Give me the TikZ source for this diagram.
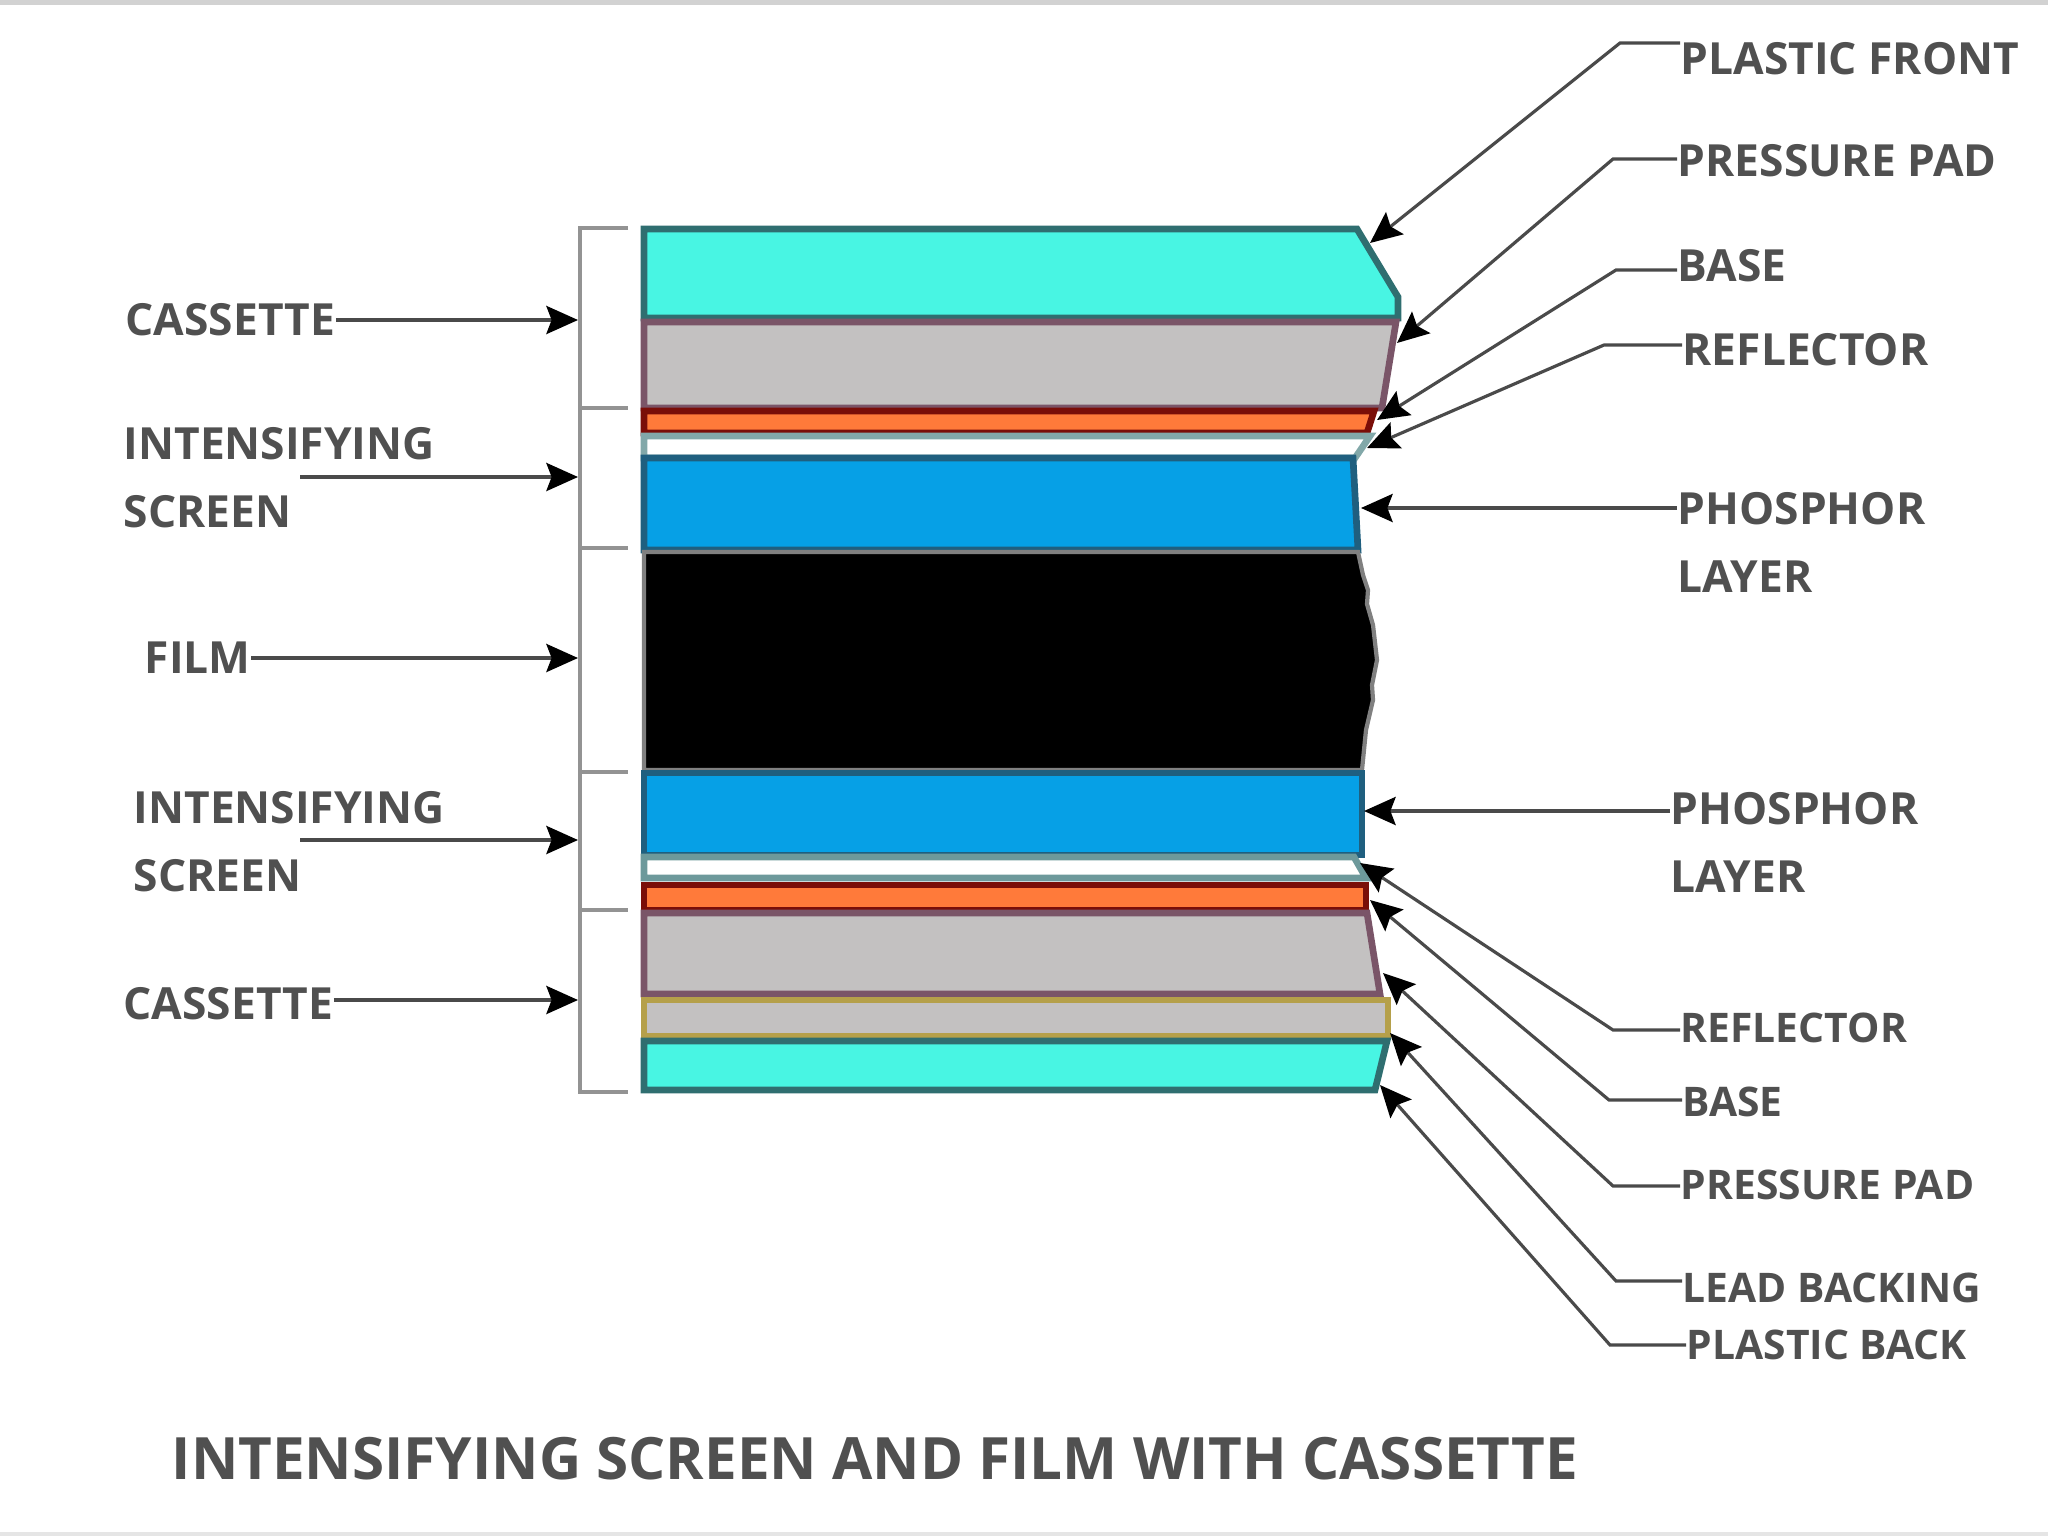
\documentclass[tikz,border=0pt]{standalone}
\usepackage{fontspec}
\setmainfont{Open Sans}
\usepackage{xcolor}
\usetikzlibrary{arrows.meta, positioning}
\definecolor{inkgray}{HTML}{505050}
\definecolor{edgegray}{HTML}{4A4A4A}
\definecolor{plasticfill}{HTML}{48F5E3}
\definecolor{plasticedge}{HTML}{2F6E70}
\definecolor{padfill}{HTML}{C3C1C1}
\definecolor{padedge}{HTML}{7A5568}
\definecolor{basefill}{HTML}{FF7A3A}
\definecolor{baseedge}{HTML}{7A0E08}
\definecolor{phosphorfill}{HTML}{06A0E6}
\definecolor{phosphoredge}{HTML}{1F5F7F}
\definecolor{leadedge}{HTML}{B5A04A}
\tikzset{
  layer/.style={line width=1.9pt, line join=miter},
  biglabel/.style={anchor=west, inner sep=0pt, align=left, text=inkgray,
                   font=\fontsize{12.6}{19.3}\selectfont\bfseries},
  smalllabel/.style={anchor=west, inner sep=0pt, text=inkgray,
                     font=\fontsize{11.6}{14}\selectfont\bfseries},
  titlelabel/.style={anchor=west, inner sep=0pt, text=inkgray,
                     font=\fontsize{16.6}{20}\selectfont\bfseries},
  arrow/.style={-{Stealth[length=9pt,width=8pt,inset=1.5pt,color=black]},
                draw=edgegray, line width=0.9pt},
  bracket/.style={draw=gray!85, line width=1.2pt},
}
\begin{document}
\begin{tikzpicture}[x=0.01cm, y=-0.01cm]
  \useasboundingbox (0,0) rectangle (2048,1536);
  \fill[gray!35] (0,0) rectangle (2048,5);
  \fill[gray!20] (0,1532) rectangle (2048,1536);

  \path[layer, draw=plasticedge, fill=plasticfill]
    (644,229) -- (1357,229) -- (1398,297) -- (1398,318) -- (644,318) -- cycle;
  \path[layer, draw=padedge, fill=padfill]
    (644,322) -- (1396,322) -- (1382,408) -- (644,408) -- cycle;
  \path[layer, draw=baseedge, fill=basefill]
    (644,411) -- (1374,411) -- (1367,433) -- (644,433) -- cycle;
  \path[layer, draw=plasticedge!60, fill=white]
    (644,436) -- (1370,436) -- (1355,458) -- (644,458) -- cycle;
  \path[layer, draw=phosphoredge, fill=phosphorfill]
    (644,458) -- (1353,458) -- (1358,550) -- (644,550) -- cycle;
  \path[draw=edgegray!70, line width=1.2pt, fill=black]
    (644,552) -- (1358,552) -- (1363,575) -- (1368,590) -- (1367,604) -- (1373,625)
    -- (1377,660) -- (1372,685) -- (1373,700) -- (1366,730) -- (1362,770) -- (644,770) -- cycle;
  \path[layer, draw=phosphoredge, fill=phosphorfill]
    (644,773) -- (1362,773) -- (1362,855) -- (644,855) -- cycle;
  \path[layer, draw=plasticedge!70, fill=white]
    (644,857) -- (1354,857) -- (1366,878) -- (644,878) -- cycle;
  \path[layer, draw=baseedge, fill=basefill]
    (644,885) -- (1366,885) -- (1366,910) -- (644,910) -- cycle;
  \path[layer, draw=padedge, fill=padfill]
    (644,913) -- (1367,913) -- (1380,994) -- (644,994) -- cycle;
  \path[layer, draw=leadedge, fill=padfill]
    (644,1000) -- (1388,1000) -- (1388,1036) -- (644,1036) -- cycle;
  \path[layer, draw=plasticedge, fill=plasticfill]
    (644,1041) -- (1387,1041) -- (1375,1090) -- (644,1090) -- cycle;

  \draw[bracket] (628,228) -- (580,228) -- (580,1092) -- (628,1092);
  \coordinate (tickfoot) at (580,408);
  \draw[bracket] (tickfoot) -- (628,408);
  \coordinate (tickfilm) at (580,548);
  \draw[bracket] (tickfilm) -- (628,548);
  \coordinate (tickscreen) at (580,772);
  \draw[bracket] (tickscreen) -- (628,772);
  \coordinate (tickpad) at (580,910);
  \draw[bracket] (tickpad) -- (628,910);

  \node[biglabel] (cassetteA) at (125,320) {CASSETTE};
  \node[biglabel] (screenA) at (123,478) {INTENSIFYING\\SCREEN};
  \node[biglabel] (film) at (144,658) {FILM};
  \node[biglabel] (screenB) at (133,842) {INTENSIFYING\\SCREEN};
  \node[biglabel] (cassetteB) at (123,1004) {CASSETTE};

  \coordinate (screenAfrom) at (300,477);
  \coordinate (screenBfrom) at (300,840);
  \coordinate (cassetteAto) at (578,320);
  \coordinate (screenAto) at (578,477);
  \coordinate (filmto) at (578,658);
  \coordinate (screenBto) at (578,840);
  \coordinate (cassetteBto) at (578,1000);
  \draw[arrow] (cassetteA.east) -- (cassetteAto);
  \draw[arrow] (screenAfrom) -- (screenAto);
  \draw[arrow] (film.east) -- (filmto);
  \draw[arrow] (screenBfrom) -- (screenBto);
  \draw[arrow] (cassetteB.east |- cassetteBto) -- (cassetteBto);

  \node[biglabel] (frontT) at (1680,59) {PLASTIC FRONT};
  \node[biglabel] (padT) at (1677,161) {PRESSURE PAD};
  \node[biglabel] (baseT) at (1677,266) {BASE};
  \node[biglabel] (reflT) at (1682,350) {REFLECTOR};
  \node[biglabel] (phosT) at (1677,542) {PHOSPHOR\\LAYER};
  \node[biglabel] (phosB) at (1670,842) {PHOSPHOR\\LAYER};
  \node[smalllabel] (reflB) at (1680,1028) {REFLECTOR};
  \node[smalllabel] (baseB) at (1682,1102) {BASE};
  \node[smalllabel] (padB) at (1680,1185) {PRESSURE PAD};
  \node[smalllabel] (leadB) at (1682,1288) {LEAD BACKING};
  \node[smalllabel] (backB) at (1686,1345) {PLASTIC BACK};
  \node[titlelabel] (title) at (171,1459) {INTENSIFYING SCREEN AND FILM WITH CASSETTE};

  \coordinate (frontTkink) at (1620,43);
  \coordinate (padTkink) at (1613,159);
  \coordinate (baseTkink) at (1616,270);
  \coordinate (reflTkink) at (1604,345);
  \coordinate (reflBkink) at (1613,1030);
  \coordinate (baseBkink) at (1609,1100);
  \coordinate (padBkink) at (1613,1186);
  \coordinate (leadBkink) at (1616,1281);
  \coordinate (backBkink) at (1610,1345);

  \coordinate (frontTtip) at (1370,243);
  \coordinate (padTtip) at (1397,343);
  \coordinate (baseTtip) at (1377,420);
  \coordinate (reflTtip) at (1367,448);
  \coordinate (phosTtip) at (1361,508);
  \coordinate (phosBtip) at (1364,811);
  \coordinate (reflBtip) at (1360,863);
  \coordinate (baseBtip) at (1370,900);
  \coordinate (padBtip) at (1383,973);
  \coordinate (leadBtip) at (1390,1033);
  \coordinate (backBtip) at (1380,1085);

  \draw[arrow] (frontT.west |- frontTkink) -- (frontTkink) -- (frontTtip);
  \draw[arrow] (padT.west |- padTkink) -- (padTkink) -- (padTtip);
  \draw[arrow] (baseT.west |- baseTkink) -- (baseTkink) -- (baseTtip);
  \draw[arrow] (reflT.west |- reflTkink) -- (reflTkink) -- (reflTtip);
  \draw[arrow] (phosT.west |- phosTtip) -- (phosTtip);
  \draw[arrow] (phosB.west |- phosBtip) -- (phosBtip);
  \draw[arrow] (reflB.west |- reflBkink) -- (reflBkink) -- (reflBtip);
  \draw[arrow] (baseB.west |- baseBkink) -- (baseBkink) -- (baseBtip);
  \draw[arrow] (padB.west |- padBkink) -- (padBkink) -- (padBtip);
  \draw[arrow] (leadB.west |- leadBkink) -- (leadBkink) -- (leadBtip);
  \draw[arrow] (backB.west |- backBkink) -- (backBkink) -- (backBtip);
\end{tikzpicture}
\end{document}
